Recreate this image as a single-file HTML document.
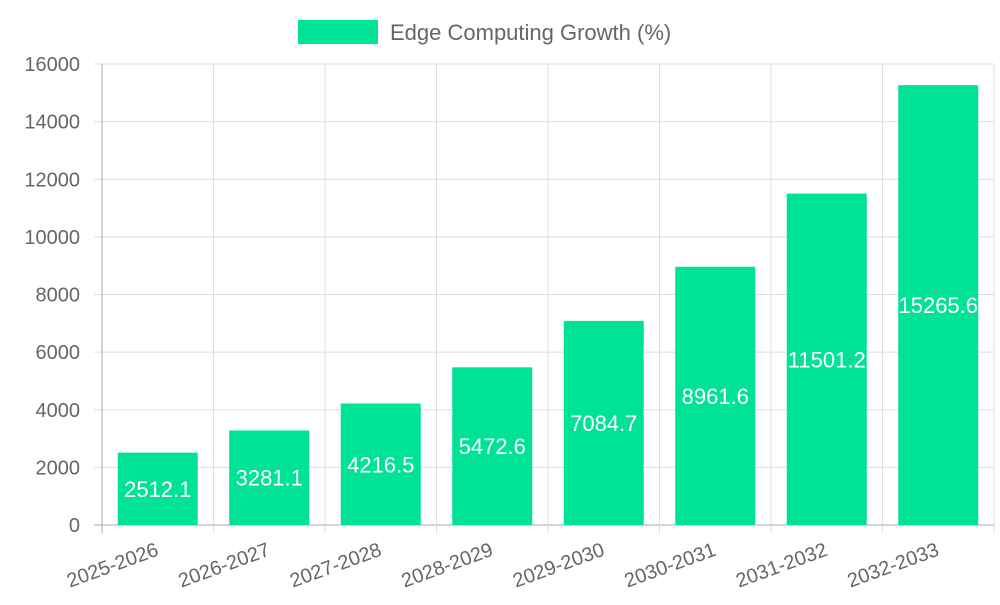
<!DOCTYPE html>
<html><head><meta charset="utf-8"><style>
body{margin:0;background:#fff}
svg text{font-family:"Liberation Sans",sans-serif}
</style></head><body>
<svg id="chart" width="1000" height="600" xmlns="http://www.w3.org/2000/svg">
<g id="grid"></g>
<g id="bars"></g>
<g id="axes"></g>
<g>
<rect x="298" y="20" width="80" height="24" fill="#00e396"/>
<text x="390" y="40" font-size="22" fill="#666">Edge Computing Growth (%)</text>
</g>
</svg>
<script>
const categories=["2025-2026","2026-2027","2027-2028","2028-2029","2029-2030","2030-2031","2031-2032","2032-2033"];
const values=[2512.1,3281.1,4216.5,5472.6,7084.7,8961.6,11501.2,15265.6];
const yTicks=[0,2000,4000,6000,8000,10000,12000,14000,16000];
const NS="http://www.w3.org/2000/svg";
const L=102,R=994,T=64,B=525,yMax=16000;
const band=(R-L)/categories.length;
const y=v=>B-(v/yMax)*(B-T);
const xc=i=>L+band*(i+0.5);
function mk(tag,attrs,parent,txt){const e=document.createElementNS(NS,tag);for(const k in attrs)e.setAttribute(k,attrs[k]);if(txt!==undefined)e.textContent=txt;parent.appendChild(e);return e;}
const grid=document.getElementById('grid'),bars=document.getElementById('bars'),axes=document.getElementById('axes');
yTicks.forEach(t=>{
  const l=mk('line',{x1:L-8,x2:R,y1:y(t),y2:y(t),stroke:t===0?'#aaa':'#ddd','stroke-width':1},grid);
  
  
  const tx=mk('text',{x:L-22,y:y(t)+7,'text-anchor':'end','font-size':20,fill:'#666'},axes,String(t));
  
  
});
for(let i=0;i<=categories.length;i++){
  const x=L+band*i;
  const l=mk('line',{x1:x,x2:x,y1:T,y2:B+8,stroke:i===0?'#aaa':'#ddd','stroke-width':1},grid);
  
  
}
categories.forEach((c,i)=>{
  const bw=80,x=xc(i)-bw/2;
  const r=mk('rect',{x:x,y:y(values[i]),width:bw,height:B-y(values[i]),fill:'#00e396'},bars);
  
  
  const v=mk('text',{x:xc(i),y:(y(values[i])+B)/2+8,'text-anchor':'middle','font-size':22,fill:'#fff'},bars,String(values[i]));
  
  
  const t=mk('text',{x:xc(i)+2,y:B+30,'text-anchor':'end','font-size':20,fill:'#666',transform:`rotate(-20 ${xc(i)+2} ${B+30})`},axes,c);
  
  
});
</script>
</body></html>
